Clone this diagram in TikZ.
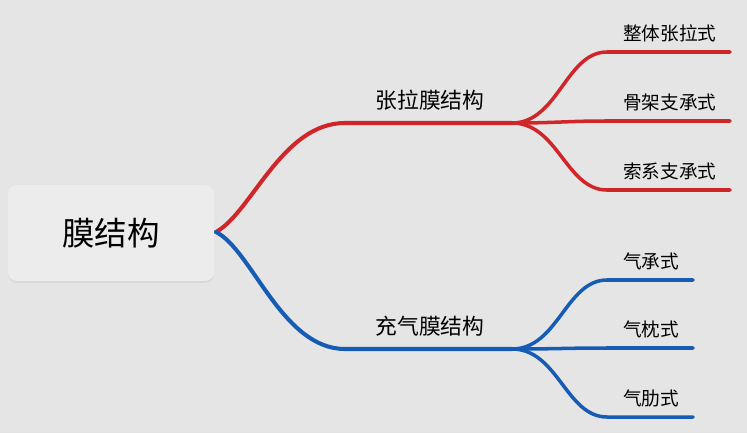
\documentclass[tikz,border=0pt]{standalone}
\usepackage{fontspec}
\newfontfamily\cjk{Noto Sans CJK SC}
\usetikzlibrary{positioning}
\usetikzlibrary{shadows}
\definecolor{bggray}{RGB}{229,229,229}
\definecolor{boxgray}{RGB}{236,236,236}
\definecolor{memred}{RGB}{208,38,42}
\definecolor{memblue}{RGB}{22,92,180}
\tikzset{rootbox/.style = {fill=boxgray, rounded corners=5pt, minimum width=4.12cm,
    minimum height=1.92cm, font=\cjk\fontsize{18.5}{20}\selectfont,
    drop shadow={shadow xshift=0pt, shadow yshift=-1pt, opacity=0.12}}}
\tikzset{topic/.style = {inner sep=0, font=\cjk\fontsize{12.4}{14}\selectfont}}
\tikzset{leaf/.style = {inner sep=0, anchor=west, font=\cjk\fontsize{10.6}{12}\selectfont}}
\tikzset{branch/.style = {line width=2.3pt, line cap=round}}
\tikzset{twig/.style = {line width=2pt, line cap=round}}

\begin{document}
\begin{tikzpicture}[x=0.02cm, y=-0.02cm]
    \fill [bggray] (0, 0) rectangle (747, 433);
    \useasboundingbox (0, 0) rectangle (747, 433);

    \node [rootbox] (mem) at (111, 233) {膜结构};
    \coordinate (start) at (216, 232);

    % tension membranes
    \coordinate (tbend) at (345, 123);
    \coordinate (thub) at (512, 123);
    \node [topic] (tension) at (430, 100) {张拉膜结构};
    \draw [branch, memred] (start) .. controls (252, 212) and (282, 123) .. (tbend) -- (thub);
    \foreach \y/\name/\txt in {52/whole/整体张拉式, 121/frame/骨架支承式, 190/cable/索系支承式}{
      \coordinate (\name end) at (730, \y);
      \coordinate (\name bend) at (607, \y);
      \node [leaf] (\name) at (623, \y-19) {\txt};
      \draw [twig, memred] (thub) .. controls (558, 123) and (566, \y) .. (\name bend) -- (\name end);
    }

    % air-supported membranes
    \coordinate (abend) at (345, 349);
    \coordinate (ahub) at (512, 349);
    \node [topic] (air) at (430, 326) {充气膜结构};
    \draw [branch, memblue] (start) .. controls (252, 250) and (282, 349) .. (abend) -- (ahub);
    \foreach \y/\name/\txt in {280/supported/气承式, 348/cushion/气枕式, 417/rib/气肋式}{
      \coordinate (\name end) at (693, \y);
      \coordinate (\name bend) at (607, \y);
      \node [leaf] (\name) at (623, \y-19) {\txt};
      \draw [twig, memblue] (ahub) .. controls (558, 349) and (566, \y) .. (\name bend) -- (\name end);
    }
  \end{tikzpicture}
\end{document}
